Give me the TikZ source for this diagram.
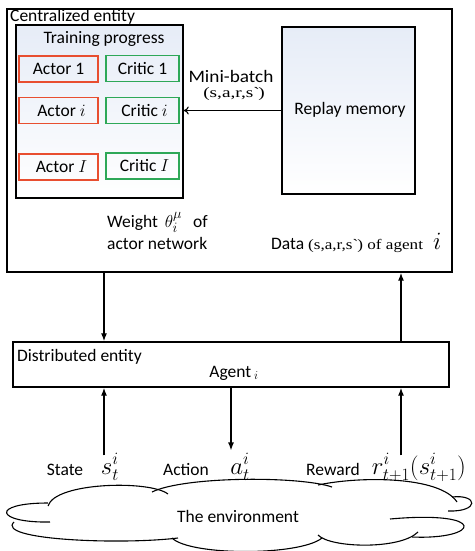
\documentclass[tikz,border=0pt]{standalone}
\usepackage{fontspec}
\setmainfont{Carlito}
\newfontfamily\serif[FakeStretch=1.33]{Liberation Serif}
\newfontfamily\serifB[FakeStretch=1.18]{Liberation Serif}
\newfontfamily\wideC[FakeStretch=1.1]{Carlito}
\usetikzlibrary{arrows.meta}
\definecolor{actred}{RGB}{232,78,48}
\definecolor{crigreen}{RGB}{46,168,88}
\definecolor{shadeblue}{RGB}{230,236,247}
\tikzset{
  bigbox/.style={draw, line width=1.4pt, inner sep=0pt},
  shadedbox/.style={draw, line width=1.6pt, inner sep=0pt, top color=shadeblue, bottom color=white},
  actorbox/.style={draw=actred, line width=1.3pt, minimum width=79pt, minimum height=26pt, inner sep=0pt},
  criticbox/.style={draw=crigreen, line width=1.3pt, minimum width=73pt, minimum height=26pt, inner sep=0pt},
  txt/.style={inner sep=0pt},
  arr/.style={line width=1.3pt, -{Latex[length=8pt,width=6pt]}},
  thinarr/.style={line width=1.1pt, -{To[length=5pt,width=8pt]}},
  cloudline/.style={line width=1.1pt}
}
\begin{document}
\begin{tikzpicture}[x=1pt,y=-1pt,font=\fontsize{17.5}{21}\selectfont]
\useasboundingbox (0,0) rectangle (474,551);
% centralized entity
\node[bigbox, minimum width=445pt, minimum height=263pt] (cent) at (229.5,140.5) {};
\node[txt, anchor=base west] (centlbl) at (10,22) {Centralized entity};
% training progress
\node[shadedbox, minimum width=167pt, minimum height=173pt] (tp) at (99.5,111.5) {};
\node[txt, anchor=base] (tplbl) at (104,44) {Training progress};
\node[actorbox] (a1) at (58.5,69) {Actor 1};
\node[criticbox] (c1) at (142.5,68.5) {Critic 1};
\node[actorbox] (ai) at (58.5,110.5) {\hspace{6pt}Actor $i$};
\node[criticbox] (ci) at (142.5,110.5) {\hspace{4pt}Critic $i$};
\node[actorbox] (aI) at (58.5,167) {\hspace{6pt}Actor $I$};
\node[criticbox] (cI) at (142.5,166) {\hspace{4pt}Critic $I$};
% replay memory
\node[shadedbox, minimum width=133pt, minimum height=167pt] (rep) at (348.5,110.5) {};
\node[txt, anchor=base] (replbl) at (350,114) {Replay memory};
\draw[thinarr] (rep.west |- ci.east) -- (tp.east |- ci.east);
\node[txt, anchor=base] (mb1) at (231,82) {\wideC Mini-batch};
\node[txt, anchor=base] (mb2) at (234,97) {\serif\fontsize{14.5}{16}\selectfont(s,a,r,s\textasciigrave)};
% weight / data labels
\node[txt, anchor=base west] (w1) at (107,227) {Weight \,{\fontsize{19}{21}\selectfont$\theta_i^{\mu}$}\hspace{11pt}of};
\node[txt, anchor=base west] (w2) at (107,249) {actor network};
\node[txt, anchor=base west] (data) at (271,249) {Data {\serifB\fontsize{14.5}{16}\selectfont(s,a,r,s\textasciigrave) of agent}\hspace{10pt}{\fontsize{24}{26}\selectfont$i$}};
% distributed entity
\node[bigbox, minimum width=436pt, minimum height=45pt] (dist) at (231,364.5) {};
\node[txt, anchor=base west] (distlbl) at (17,361) {Distributed entity};
\node[txt, anchor=base] (agent) at (234,377) {Agent\,$_{i}$};
\coordinate (xl) at (104,0);
\coordinate (xm) at (231,0);
\coordinate (xr) at (401,0);
\draw[arr] (cent.south -| xl) -- (dist.north -| xl);
\draw[arr] (dist.north -| xr) -- (cent.south -| xr);
% bottom labels
\node[txt, anchor=base] (state) at (65,475) {State};
\node[txt, anchor=base] (sl) at (110,474) {\fontsize{26}{28}\selectfont$s_t^i$};
\node[txt, anchor=base] (action) at (186,475) {Action};
\node[txt, anchor=base] (al) at (240,474) {\fontsize{26}{28}\selectfont$a_t^i$};
\node[txt, anchor=base] (reward) at (333,475) {Reward};
\node[txt, anchor=base] (rl) at (419,474) {\fontsize{25}{27}\selectfont$r_{t+1}^i(s_{t+1}^i)$};
\draw[arr] (sl.north -| xl) ++(0,2) -- (dist.south -| xl);
\draw[arr] (dist.south -| xm) -- ([yshift=3pt]al.north -| xm);
\draw[arr] (rl.north -| xr) ++(0,2) -- (dist.south -| xr);
% cloud
\begin{scope}[cloudline]
\draw (48,506) .. controls (55,482) and (150,480) .. (168,494);
\draw (152,492) .. controls (185,476) and (300,476) .. (332,487);
\draw (318,485) .. controls (360,476) and (440,476) .. (457,502);
\draw (452,497) .. controls (478,494) and (480,512) .. (448,511);
\draw (390,519) .. controls (490,510) and (480,540) .. (412,537);
\draw (418,532) .. controls (400,550) and (330,548) .. (318,535);
\draw (322,538) .. controls (300,556) and (190,556) .. (172,538);
\draw (14,522) .. controls (-5,540) and (120,545) .. (178,538);
\draw (48,503) .. controls (-10,503) and (-5,523) .. (50,522);
\end{scope}
\node[txt, anchor=base] (env) at (238,522) {The environment};
\end{tikzpicture}
\end{document}
